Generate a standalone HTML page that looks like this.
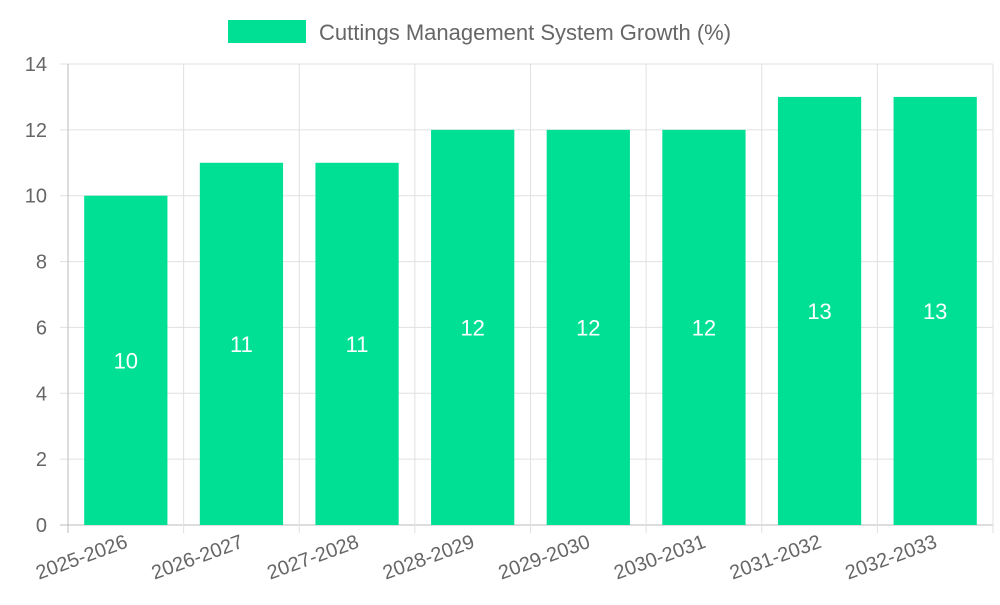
<!DOCTYPE html>
<html><head><meta charset="utf-8"><style>
body{margin:0;background:#fff;}
svg text{font-family:"Liberation Sans",sans-serif;}
</style></head><body>
<svg id="chart" width="1000" height="600" xmlns="http://www.w3.org/2000/svg">
<g id="legend">
<rect x="228" y="20" width="78" height="23" fill="#00e094"/>
<text x="319" y="40" font-size="22" fill="#666">Cuttings Management System Growth (%)</text>
</g>
<g id="grid"></g><g id="bars"></g><g id="labels"></g>
</svg>
<script>
const categories=["2025-2026","2026-2027","2027-2028","2028-2029","2029-2030","2030-2031","2031-2032","2032-2033"];
const values=[10,11,11,12,12,12,13,13];
const yTicks=[0,2,4,6,8,10,12,14];
const X0=68,X1=993,Y0=525,Y1=64,YMAX=14;
const NS="http://www.w3.org/2000/svg";
const bw=(X1-X0)/categories.length;
const y=v=>Y0-(v/YMAX)*(Y0-Y1);
const xc=i=>X0+bw*(i+0.5);
function el(t,a,p){const e=document.createElementNS(NS,t);for(const k in a)e.setAttribute(k,a[k]);p.appendChild(e);return e;}
const grid=document.getElementById('grid'),bars=document.getElementById('bars'),labels=document.getElementById('labels');
yTicks.forEach(t=>{
 const l=el('line',{x1:60,x2:X1,y1:y(t),y2:y(t),stroke:t===0?'#bbb':'#e0e0e0','stroke-width':1},grid);
 
 
 const tx=el('text',{x:47,y:y(t)+7,'font-size':20,fill:'#666','text-anchor':'end'},grid);
 tx.textContent=t;
 
 
});
for(let i=0;i<=categories.length;i++){
 const x=X0+bw*i;
 const l=el('line',{x1:x,x2:x,y1:Y1,y2:Y0+8,stroke:i===0?'#bbb':'#e0e0e0','stroke-width':1},grid);
 
 
}
categories.forEach((c,i)=>{
 const w=bw*0.72,x=xc(i)-w/2;
 const r=el('rect',{x:x,y:y(values[i]),width:w,height:Y0-y(values[i]),fill:'#00e094'},bars);
 
 
 const v=el('text',{x:xc(i),y:(y(values[i])+Y0)/2+8,'font-size':22,fill:'#fff','text-anchor':'middle'},labels);
 v.textContent=values[i];
 
 
 const t=el('text',{x:xc(i)+3,y:Y0+22,'font-size':20,fill:'#666','text-anchor':'end',transform:`rotate(-20 ${xc(i)+3} ${Y0+22})`},labels);
 t.textContent=c;
 
 
});
</script>
</body></html>
